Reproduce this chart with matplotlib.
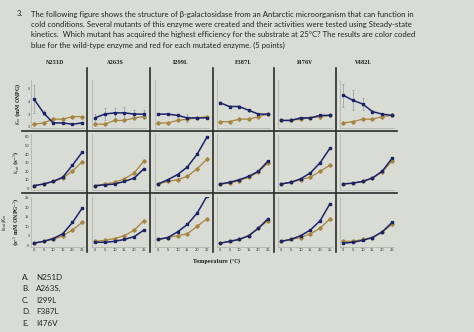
import matplotlib
matplotlib.use("Agg")
import matplotlib.pyplot as plt
from matplotlib.lines import Line2D

# temperatures (deg C)
temps = [0, 5, 10, 15, 20, 25]
mutants = ["N251D", "A263S", "I299L", "F387L", "I476V", "V482L"]

# Km (mM ONPG) -- wild type (blue) and mutant (red)
km_wt = [
    [4.2, 3.1, 2.3, 2.3, 2.2, 2.3],
    [2.7, 3.0, 3.1, 3.1, 3.0, 3.0],
    [3.0, 3.0, 2.9, 2.7, 2.7, 2.7],
    [3.9, 3.6, 3.6, 3.3, 3.0, 3.0],
    [2.5, 2.5, 2.7, 2.7, 2.9, 2.9],
    [4.5, 4.1, 3.8, 3.2, 3.0, 2.9],
]
km_wt_err = [
    [1.1, 0.2, 0.1, 0.1, 0.1, 0.1],
    [0.3, 0.5, 0.4, 0.5, 0.3, 0.3],
    [0.1, 0.1, 0.1, 0.3, 0.1, 0.1],
    [0.1, 0.1, 0.1, 0.1, 0.1, 0.1],
    [0.1, 0.1, 0.1, 0.1, 0.1, 0.1],
    [0.9, 0.8, 0.5, 0.1, 0.1, 0.1],
]
km_mut = [
    [2.2, 2.3, 2.6, 2.6, 2.8, 2.8],
    [2.2, 2.2, 2.5, 2.5, 2.7, 2.8],
    [2.3, 2.3, 2.5, 2.6, 2.7, 2.8],
    [2.4, 2.4, 2.6, 2.6, 2.8, 3.0],
    [2.5, 2.5, 2.6, 2.7, 2.8, 2.9],
    [2.3, 2.4, 2.6, 2.6, 2.8, 2.9],
]

# kcat (1/s)
kcat_wt = [
    [3, 5, 8, 13, 27, 42],
    [3, 4, 5, 8, 12, 23],
    [5, 10, 16, 25, 40, 60],
    [5, 7, 10, 14, 20, 32],
    [5, 7, 11, 18, 30, 47],
    [5, 6, 8, 12, 20, 35],
]
kcat_mut = [
    [3, 5, 8, 12, 20, 31],
    [3, 5, 7, 11, 18, 32],
    [5, 8, 10, 14, 23, 34],
    [5, 6, 9, 13, 19, 30],
    [5, 7, 10, 13, 20, 27],
    [5, 6, 8, 12, 19, 32],
]

# kcat/Km (1/s per mM ONPG)
eff_wt = [
    [1, 2, 3.5, 6, 12, 19.5],
    [1.5, 1.5, 2, 3, 4.5, 8],
    [3, 4, 7, 11, 17, 26],
    [1, 2, 3, 5, 9, 14],
    [2, 3, 5, 8, 13, 22],
    [1, 1.5, 2.5, 4, 7, 12],
]
eff_mut = [
    [1, 2, 3, 5, 8, 12],
    [2, 2.5, 3.5, 5, 8, 13],
    [3, 4, 5, 6, 10, 14],
    [1, 2, 3, 5, 9, 13],
    [2, 3, 4, 6, 9, 14],
    [2, 2, 3, 4, 7, 11],
]

question = [
    "The following figure shows the structure of \u03b2-galactosidase from an Antarctic microorganism that can function in",
    "cold conditions. Several mutants of this enzyme were created and their activities were tested using Steady-state",
    "kinetics.  Which mutant has acquired the highest efficiency for the substrate at 25\u00b0C? The results are color coded",
    "blue for the wild-type enzyme and red for each mutated enzyme. (5 points)",
]
choices = [("A.", "N251D"), ("B.", "A263S,"), ("C.", "I299L"), ("D.", "F387L"), ("E.", "I476V")]

W, H = 474, 332
BG = "#d9dcd5"
BLUE = "#1c2468"
RED = "#a7843f"
INK = "#222222"

fig = plt.figure(figsize=(W / 100, H / 100), dpi=100, facecolor=BG)


def px_axes(x0, y0, x1, y1):
    return fig.add_axes([x0 / W, 1 - y1 / H, (x1 - x0) / W, (y1 - y0) / H])


def px_line(xs, ys, lw=1.2, color="#2b2b2b"):
    fig.add_artist(Line2D([x / W for x in xs], [1 - y / H for y in ys],
                          lw=lw, color=color, transform=fig.transFigure))


# question text
fig.text(17 / W, 1 - 14 / H, "3.", fontsize=5.6, family="Lato", color=INK, va="center")
for i, line in enumerate(question):
    fig.text(31 / W, 1 - (14 + 10.5 * i) / H, line, fontsize=5.6, family="Lato",
             color=INK, va="center")

col_x = [(31, 84), (92, 146), (155, 209), (217, 270), (278, 332), (340, 394)]
rows = [
    (80, 128, (1.9, 5.7), [2, 3, 4, 5], km_wt, km_mut, "$K_m$ (mM ONPG)"),
    (134, 190, (-2, 63.5), [0, 10, 20, 30, 40, 50, 60], kcat_wt, kcat_mut, "$k_{cat}$ (s$^{-1}$)"),
    (197, 247, (-1, 25.5), [0, 5, 10, 15, 20, 25], eff_wt, eff_mut,
     "$k_{cat}/K_m$\n(s$^{-1}$ mM ONPG$^{-1}$)"),
]
title_x = [55, 114, 180, 243, 305, 362]

for r, (y0, y1, ylim, yticks, wt, mut, ylab) in enumerate(rows):
    for c, (x0, x1) in enumerate(col_x):
        ax = px_axes(x0, y0, x1, y1)
        ax.patch.set_alpha(0)
        ax.plot(temps, mut[c], color=RED, lw=0.9, marker="D", ms=1.8, zorder=2)
        ax.plot(temps, wt[c], color=BLUE, lw=1.1, marker="s", ms=1.8, zorder=3)
        if r == 0:
            ax.errorbar(temps, wt[c], yerr=km_wt_err[c], fmt="none",
                        ecolor="#7f8790", elinewidth=0.4, capsize=0.8, capthick=0.4)
        ax.set_xlim(-1.5, 26)
        ax.set_ylim(*ylim)
        for s in ["top", "right"]:
            ax.spines[s].set_visible(False)
        for s in ["left", "bottom"]:
            ax.spines[s].set_color("#a9ada6")
            ax.spines[s].set_linewidth(0.5)
        ax.tick_params(length=0, labelsize=2.6, pad=1, colors="#333333")
        ax.set_xticks(temps)
        ax.set_yticks(yticks)
        if r < 2:
            ax.set_xticklabels([])
        if c > 0:
            ax.set_yticklabels([])
        else:
            ax.set_ylabel(ylab, fontsize=3.4, family="DejaVu Serif", fontweight="bold",
                          labelpad=3, color=INK)
        if r == 0:
            fig.text(title_x[c] / W, 1 - 62 / H, mutants[c], fontsize=3.4,
                     family="DejaVu Serif", fontweight="bold", color=INK, ha="center",
                     va="center")

# dark separator lines of the figure
for x in [87, 150, 213, 274, 336]:
    px_line([x, x], [68, 252])
for y in [131, 193]:
    px_line([22, 397], [y, y])

fig.text(217 / W, 1 - 261 / H, "Temperature (\u00b0C)", fontsize=3.4,
         family="DejaVu Serif", fontweight="bold", color=INK, ha="center", va="center")

for i, (letter, name) in enumerate(choices):
    y = 277 + 11.6 * i
    fig.text(22 / W, 1 - y / H, letter, fontsize=5.8, family="Lato", color=INK, va="center")
    fig.text(36 / W, 1 - y / H, name, fontsize=5.8, family="Lato", color=INK, va="center")

fig.savefig("out.png", dpi=100, facecolor=BG)
